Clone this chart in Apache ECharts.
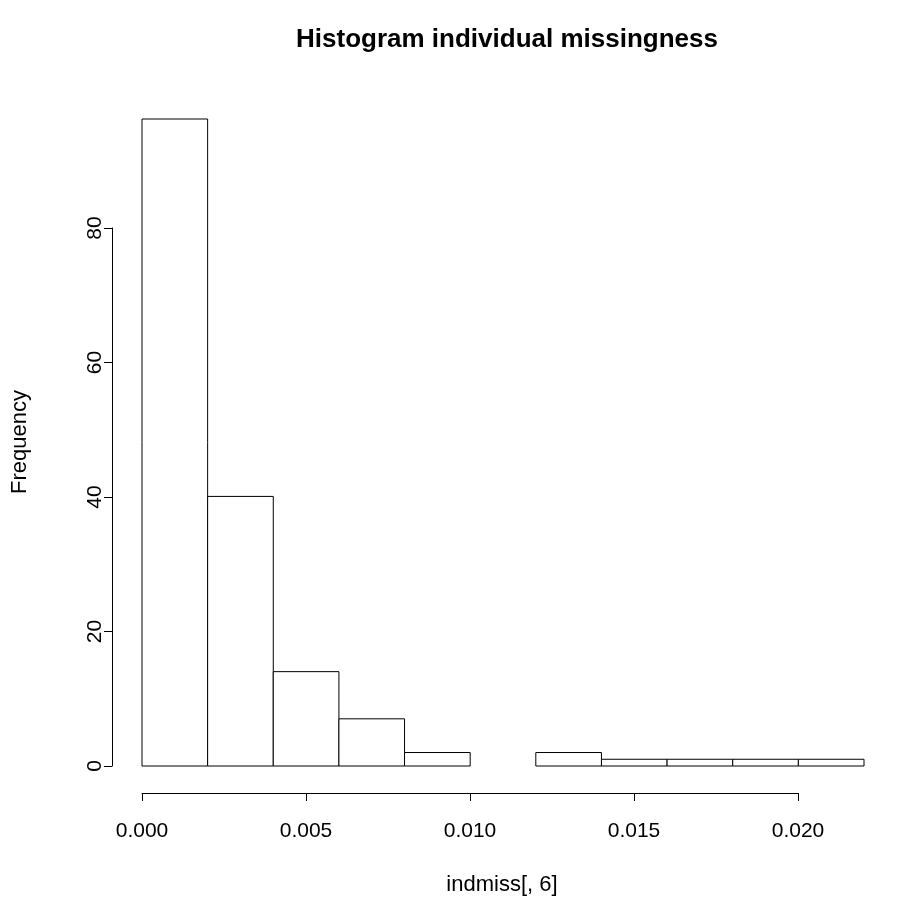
<!DOCTYPE html>
<html>
<head>
<meta charset="utf-8">
<script src="https://cdn.jsdelivr.net/npm/echarts@6/dist/echarts.min.js"></script>
<style>html,body{margin:0;padding:0;background:#fff}#main{width:913px;height:905px}</style>
</head>
<body>
<div id="main"></div>
<script>
// histogram bins (breaks every 0.002) and counts
var binStart = [0.000, 0.002, 0.004, 0.006, 0.008, 0.010, 0.012, 0.014, 0.016, 0.018, 0.020];
var binWidth = 0.002;
var counts = [96, 40, 14, 7, 2, 0, 2, 1, 1, 1, 1];
var xTicks = [0, 0.005, 0.010, 0.015, 0.020];
var yTicks = [0, 20, 40, 60, 80];

var chart = echarts.init(document.getElementById('main'));
var font = 'Liberation Sans, Arial, sans-serif';
var data = binStart.map(function (s, i) { return [s, s + binWidth, counts[i]]; });

var option = {
    animation: false,
    textStyle: { fontFamily: font },
    title: {
        text: 'Histogram individual missingness',
        left: 502, top: 22, textAlign: 'center',
        textStyle: { fontSize: 26, fontWeight: 'bold', color: '#000', fontFamily: font }
    },
    grid: [
        { left: 142, right: 49, top: 119, bottom: 139 },       // plot region
        { left: 142, width: 656, bottom: 112, height: 1 },     // x axis
        { left: 112, width: 1, top: 228, bottom: 139 }         // y axis
    ],
    xAxis: [
        { gridIndex: 0, type: 'value', min: 0, max: 0.022, show: false },
        { gridIndex: 1, type: 'value', min: 0, max: xTicks[xTicks.length - 1], interval: 0.005,
          axisLine: { lineStyle: { color: '#000' } }, splitLine: { show: false },
          axisTick: { length: 8, lineStyle: { color: '#000' } },
          axisLabel: { color: '#000', fontSize: 21, margin: 28, formatter: function (v) { return v.toFixed(3); } } },
        { gridIndex: 2, type: 'value', show: false }
    ],
    yAxis: [
        { gridIndex: 0, type: 'value', min: 0, max: 96, show: false },
        { gridIndex: 1, type: 'value', show: false },
        { gridIndex: 2, type: 'value', min: 0, max: yTicks[yTicks.length - 1], interval: 20,
          axisLine: { show: true, lineStyle: { color: '#000' } }, splitLine: { show: false },
          axisTick: { show: true, length: 8, lineStyle: { color: '#000' } },
          axisLabel: { color: '#000', fontSize: 21, margin: 6, rotate: 90 } }
    ],
    series: [{
        type: 'custom', xAxisIndex: 0, yAxisIndex: 0, data: data,
        renderItem: function (params, api) {
            if (api.value(2) === 0) return null;
            var p0 = api.coord([api.value(0), 0]);
            var p1 = api.coord([api.value(1), api.value(2)]);
            return { type: 'rect',
                shape: { x: p0[0], y: p1[1], width: p1[0] - p0[0], height: p0[1] - p1[1] },
                style: { fill: '#fff', stroke: '#000', lineWidth: 1 } };
        }
    }],
    graphic: [
        { type: 'text', x: 502, y: 885, style: { text: 'indmiss[, 6]', textAlign: 'center', textVerticalAlign: 'middle', fontSize: 22, fontFamily: font, fill: '#000' } },
        { type: 'text', x: 20, y: 442, rotation: Math.PI / 2, style: { text: 'Frequency', textAlign: 'center', textVerticalAlign: 'middle', fontSize: 22, fontFamily: font, fill: '#000' } }
    ]
};
chart.setOption(option);
</script>
</body>
</html>
